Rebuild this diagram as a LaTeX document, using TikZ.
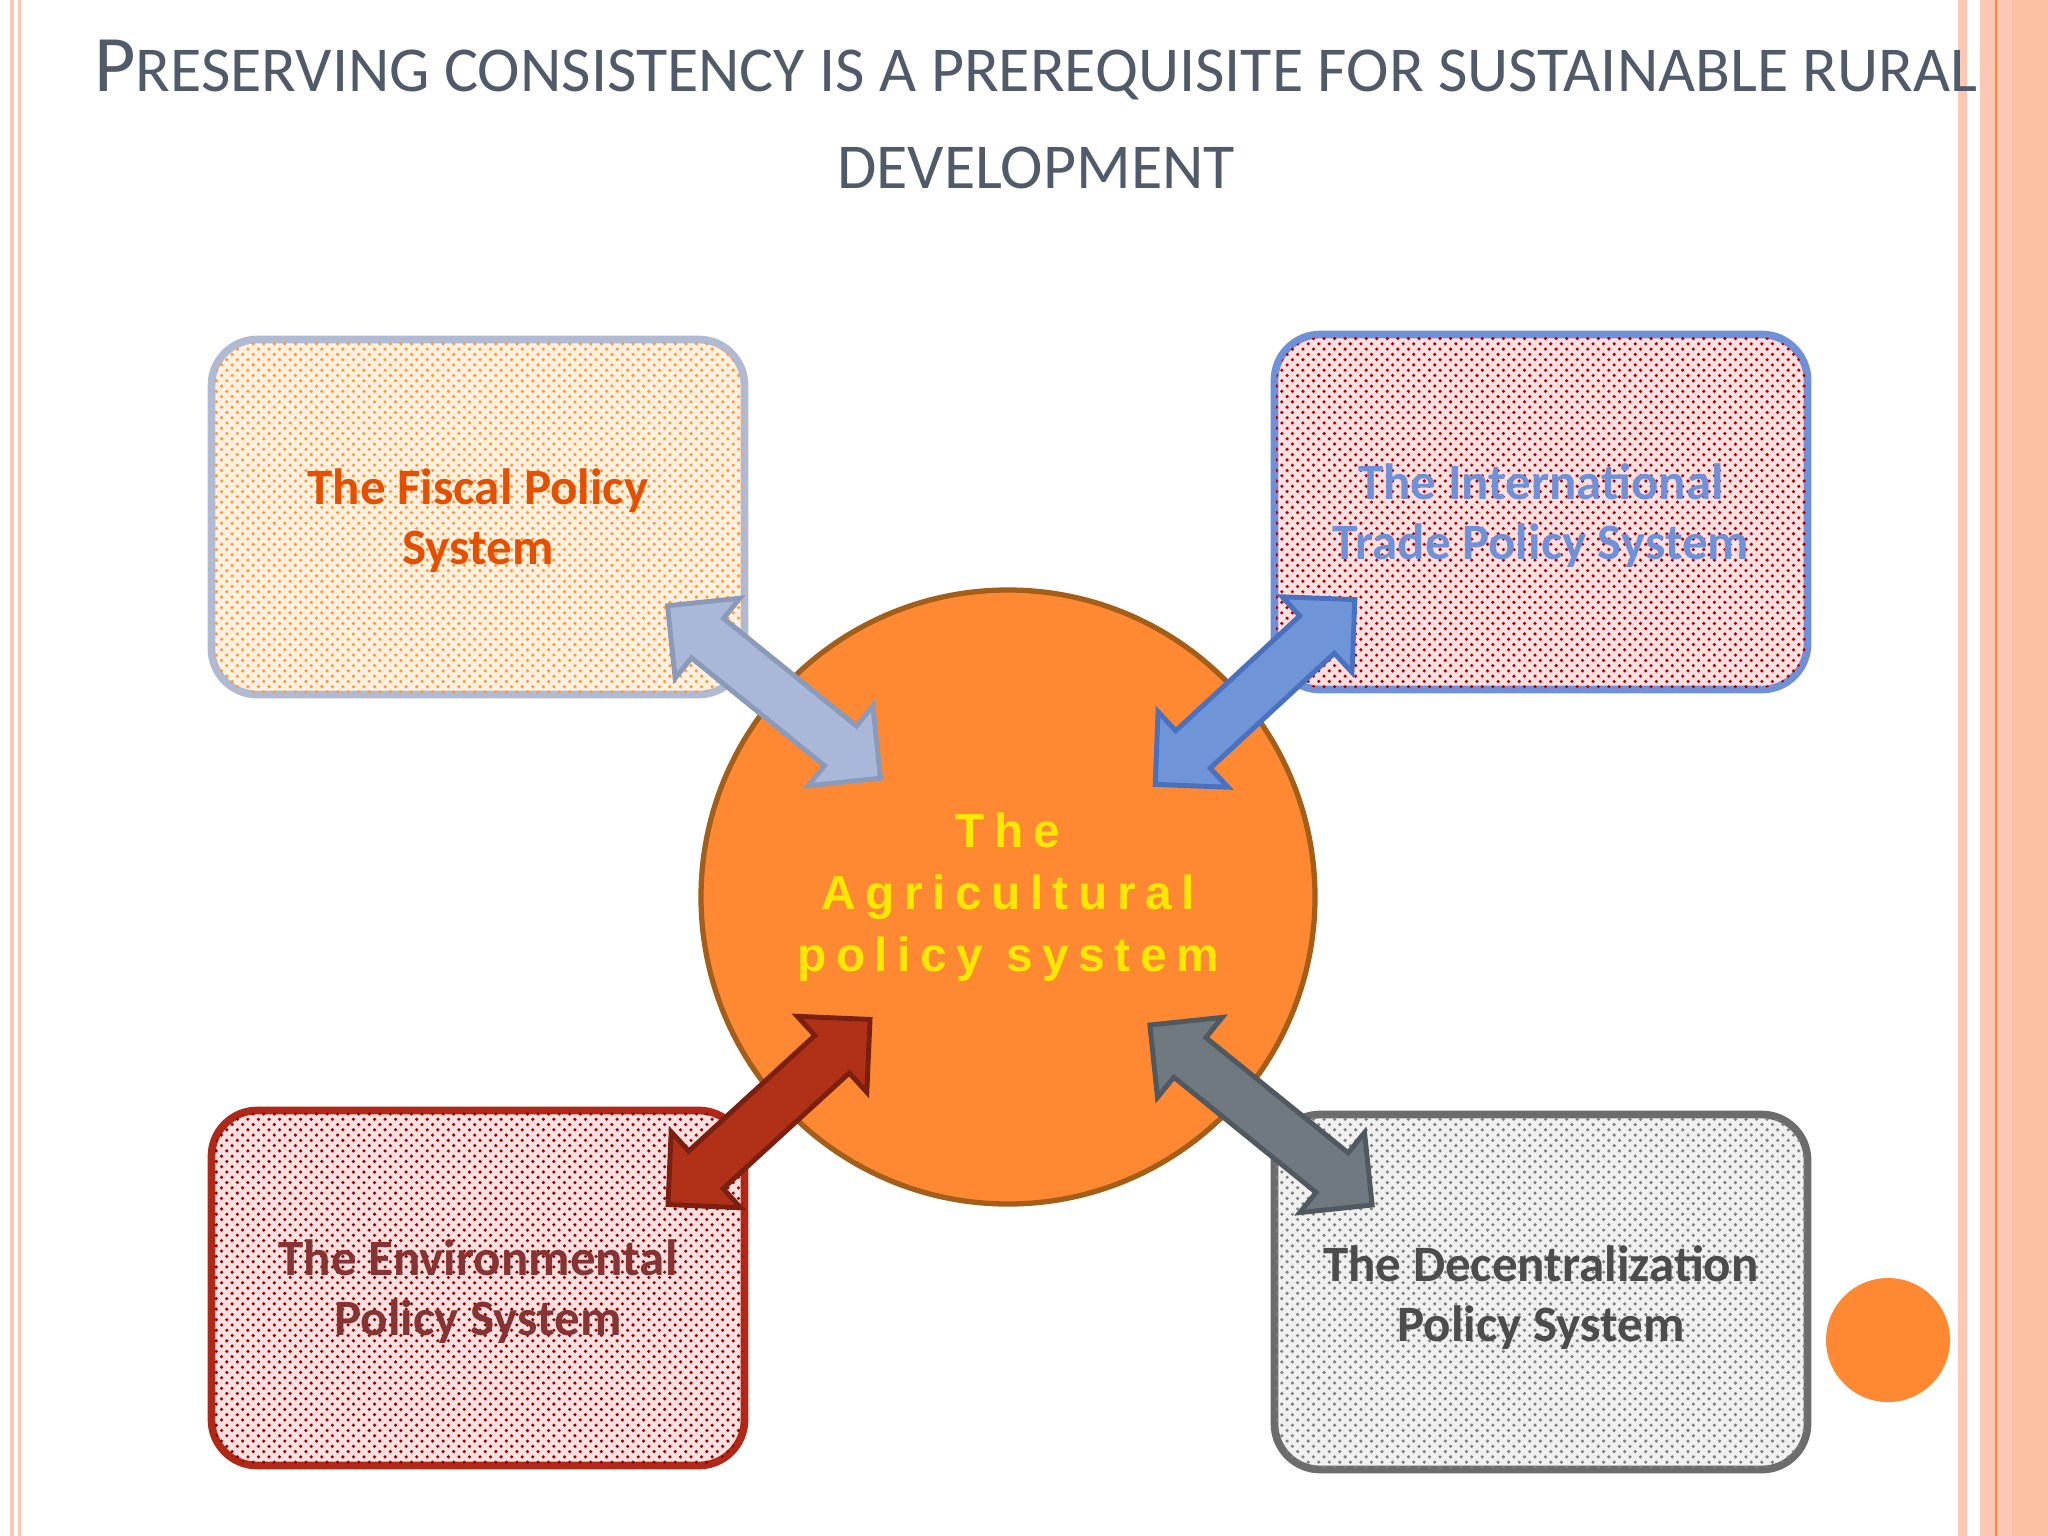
\documentclass[tikz,border=0pt]{standalone}
\usepackage{fontspec}
\setmainfont{Carlito}
\newfontfamily\arialsp[LetterSpace=20]{Liberation Sans}
\usetikzlibrary{shapes.arrows,patterns}
\definecolor{salm}{HTML}{FCC8B4}
\definecolor{titlec}{HTML}{505A68}
\definecolor{orng}{HTML}{FF8833}
\newlength\ux \setlength\ux{0.01cm}
\tikzset{
 pbox/.style={rounded corners=13pt, line width=2.2pt, minimum width=533\ux, minimum height=355\ux, inner sep=0pt},
 btxt/.style={font=\fontsize{14.5}{17}\selectfont\bfseries, align=center},
 darr/.style={double arrow, draw, line width=1.4pt, minimum height=#1\ux, double arrow head extend=26\ux, inner xsep=0pt, inner ysep=23\ux, anchor=center},
}
\begin{document}
\begin{tikzpicture}[x=0.01cm,y=-0.01cm]
\useasboundingbox (0,0) rectangle (2048,1536);
\fill[white] (0,0) rectangle (2048,1536);
% frames
\fill[salm] (10,0) rectangle (14,1536);
\fill[salm] (18,0) rectangle (21,1536);
\fill[salm] (1958,0) rectangle (1967,1536);
\fill[salm] (1980,0) rectangle (2048,1536);
\fill[orng] (1995,0) rectangle (1997,1536);
\fill[salm!90!orange] (2012,0) rectangle (2048,1536);
% title
\node[text=titlec, font=\fontsize{22.8}{26}\selectfont] (t1) at (1036,70) {P{\fontsize{18.2}{22}\selectfont RESERVING CONSISTENCY IS A PREREQUISITE FOR SUSTAINABLE RURAL}};
\node[text=titlec, font=\fontsize{18.2}{22}\selectfont] (t2) at (1036,168) {DEVELOPMENT};
% boxes
\node[pbox, draw={rgb,255:red,176;green,186;blue,210}, fill=orange!12] (fis) at (478,517) {};
\fill[pattern=crosshatch dots, pattern color=orange!80] [rounded corners=13pt] (213,342) rectangle (743,693);
\node[btxt, text=orange!70!red!90!black] at (fis) [yshift=-1pt] {The Fiscal Policy\\System};
\node[pbox, draw={rgb,255:red,112;green,144;blue,216}, fill=red!12] (int) at (1541,512) {};
\fill[pattern=crosshatch dots, pattern color=red!70!black] [rounded corners=13pt] (1276,337) rectangle (1806,688);
\node[btxt, text={rgb,255:red,112;green,144;blue,216}] at (int) [yshift=-1pt] {The International\\Trade Policy System};
\node[pbox, draw={rgb,255:red,176;green,40;blue,24}, fill=red!12] (env) at (478,1288) {};
\fill[pattern=crosshatch dots, pattern color=red!60!black] [rounded corners=13pt] (213,1112) rectangle (743,1465);
\node[btxt, text=red!40!black!80] at (env) [yshift=-1pt] {The Environmental\\Policy System};
\node[pbox, draw=gray!85!black, fill=gray!12] (dec) at (1541,1292) {};
\fill[pattern=crosshatch dots, pattern color=gray] [rounded corners=13pt] (1276,1116) rectangle (1806,1468);
\node[btxt, text=gray!60!black] at (dec) [yshift=-1.6pt] {The Decentralization\\Policy System};
% circle
\node[circle, draw=orange!60!black!90, line width=1.5pt, fill=orng, minimum size=614\ux, inner sep=0pt] (agr) at (1008,897) {};
\node[text=yellow!90!orange, font=\arialsp\fontsize{13.6}{17.6}\selectfont\bfseries, align=center] (agt) at (1008,897) {The\\Agricultural\\policy system};
\node[circle, fill=orng, minimum size=124\ux, inner sep=0pt] (dot) at (1888,1340) {};
% arrows
\node[darr=274, rotate=-39, draw={rgb,255:red,138;green,154;blue,184}, fill={rgb,255:red,169;green,184;blue,216}] (a1) at (774,692) {};
\node[darr=272, rotate=42.8, draw={rgb,255:red,74;green,112;blue,192}, fill={rgb,255:red,112;green,148;blue,216}] (a2) at (1255,692) {};
\node[darr=274, rotate=42.5, draw={rgb,255:red,122;green,32;blue,16}, fill={rgb,255:red,176;green,48;blue,24}] (a3) at (769,1112) {};
\node[darr=286, rotate=-39, draw={rgb,255:red,80;green,88;blue,96}, fill={rgb,255:red,112;green,120;blue,128}] (a4) at (1261,1115) {};
\end{tikzpicture}
\end{document}
